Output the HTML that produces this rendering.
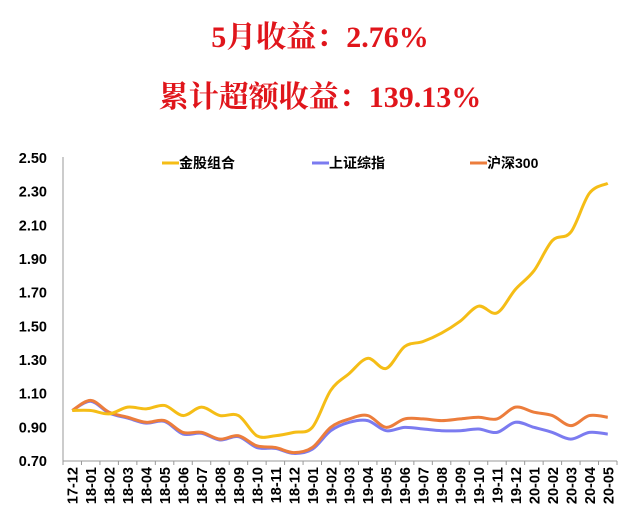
<!DOCTYPE html>
<html><head><meta charset="utf-8"><style>
body{margin:0;background:#fff;width:640px;height:513px;overflow:hidden}
.t{position:absolute;left:0;width:640px;text-align:center;color:#e0151b;font-family:"Liberation Serif","Noto Serif CJK SC",serif;font-weight:bold;font-size:30px}
</style></head><body>
<div class="t" style="top:12px">5月收益：2.76%</div>
<div class="t" style="top:72px">累计超额收益：139.13%</div>
<svg id="s" width="640" height="513" style="position:absolute;left:0;top:0"></svg>
<script>
const s=document.getElementById('s');
const X0=63,X1=617,YB=461,K=168.3,N=30,W=(X1-X0)/N;
const px=i=>X0+W*(i+0.5), py=v=>YB-(v-0.7)*K;
let h='';
h+=`<line x1="${X0}" y1="157" x2="${X0}" y2="${YB}" stroke="#999" stroke-width="1"/>`;
h+=`<line x1="${X0}" y1="${YB}" x2="${X1}" y2="${YB}" stroke="#999" stroke-width="1"/>`;
for(let i=0;i<=N;i++){let x=X0+W*i;h+=`<line x1="${x}" y1="${YB}" x2="${x}" y2="${YB+4}" stroke="#999"/>`;}
for(let k=0;k<10;k++){let v=0.7+0.2*k;h+=`<text x="47" y="${py(v)+5}" text-anchor="end" font-family="Liberation Sans,sans-serif" font-weight="bold" font-size="14.5">${v.toFixed(2)}</text>`;}
const labs=['17-12'];for(let m=1;m<=12;m++)labs.push('18-'+String(m).padStart(2,'0'));for(let m=1;m<=12;m++)labs.push('19-'+String(m).padStart(2,'0'));for(let m=1;m<=5;m++)labs.push('20-'+String(m).padStart(2,'0'));
labs.forEach((l,i)=>{let x=px(i)+5.5;h+=`<text transform="translate(${x},467) rotate(-90)" text-anchor="end" font-family="Liberation Sans,sans-serif" font-weight="bold" font-size="14.5">${l}</text>`;});
const gold=[1.00,1.00,0.98,1.02,1.01,1.03,0.97,1.02,0.97,0.97,0.85,0.85,0.87,0.90,1.12,1.22,1.31,1.25,1.38,1.41,1.46,1.53,1.62,1.58,1.72,1.83,2.01,2.06,2.29,2.35];
const ora=[1.00,1.06,0.99,0.96,0.93,0.94,0.87,0.87,0.83,0.85,0.79,0.78,0.75,0.78,0.90,0.95,0.97,0.90,0.95,0.95,0.94,0.95,0.96,0.95,1.02,0.99,0.97,0.91,0.97,0.96];
const blu=[1.00,1.055,0.985,0.955,0.925,0.935,0.86,0.865,0.825,0.845,0.78,0.775,0.745,0.77,0.88,0.93,0.94,0.88,0.90,0.89,0.88,0.88,0.89,0.87,0.93,0.90,0.87,0.83,0.87,0.86];
function path(d){let p=d.map((v,i)=>[px(i),py(v)]);let s=`M${p[0][0]},${p[0][1]}`;
for(let i=0;i<p.length-1;i++){let a=p[Math.max(0,i-1)],b=p[i],c=p[i+1],e=p[Math.min(p.length-1,i+2)];
s+=` C${b[0]+(c[0]-a[0])/6},${b[1]+(c[1]-a[1])/6} ${c[0]-(e[0]-b[0])/6},${c[1]-(e[1]-b[1])/6} ${c[0]},${c[1]}`;}return s;}
h+=`<path d="${path(blu)}" fill="none" stroke="#7b7bf0" stroke-width="3"/>`;
h+=`<path d="${path(ora)}" fill="none" stroke="#ec7d3c" stroke-width="3"/>`;
h+=`<path d="${path(gold)}" fill="none" stroke="#f5bd16" stroke-width="3"/>`;
const lg=[[162,'#f5bd16','金股组合'],[312,'#7b7bf0','上证综指'],[470,'#ec7d3c','沪深300']];
lg.forEach(([x,c,t])=>{h+=`<line x1="${x}" y1="163" x2="${x+17}" y2="163" stroke="${c}" stroke-width="3"/><text x="${x+17}" y="168" font-family="Liberation Sans,Noto Sans CJK SC,sans-serif" font-weight="bold" font-size="14">${t}</text>`;});
s.innerHTML=h;
</script>
</body></html>
